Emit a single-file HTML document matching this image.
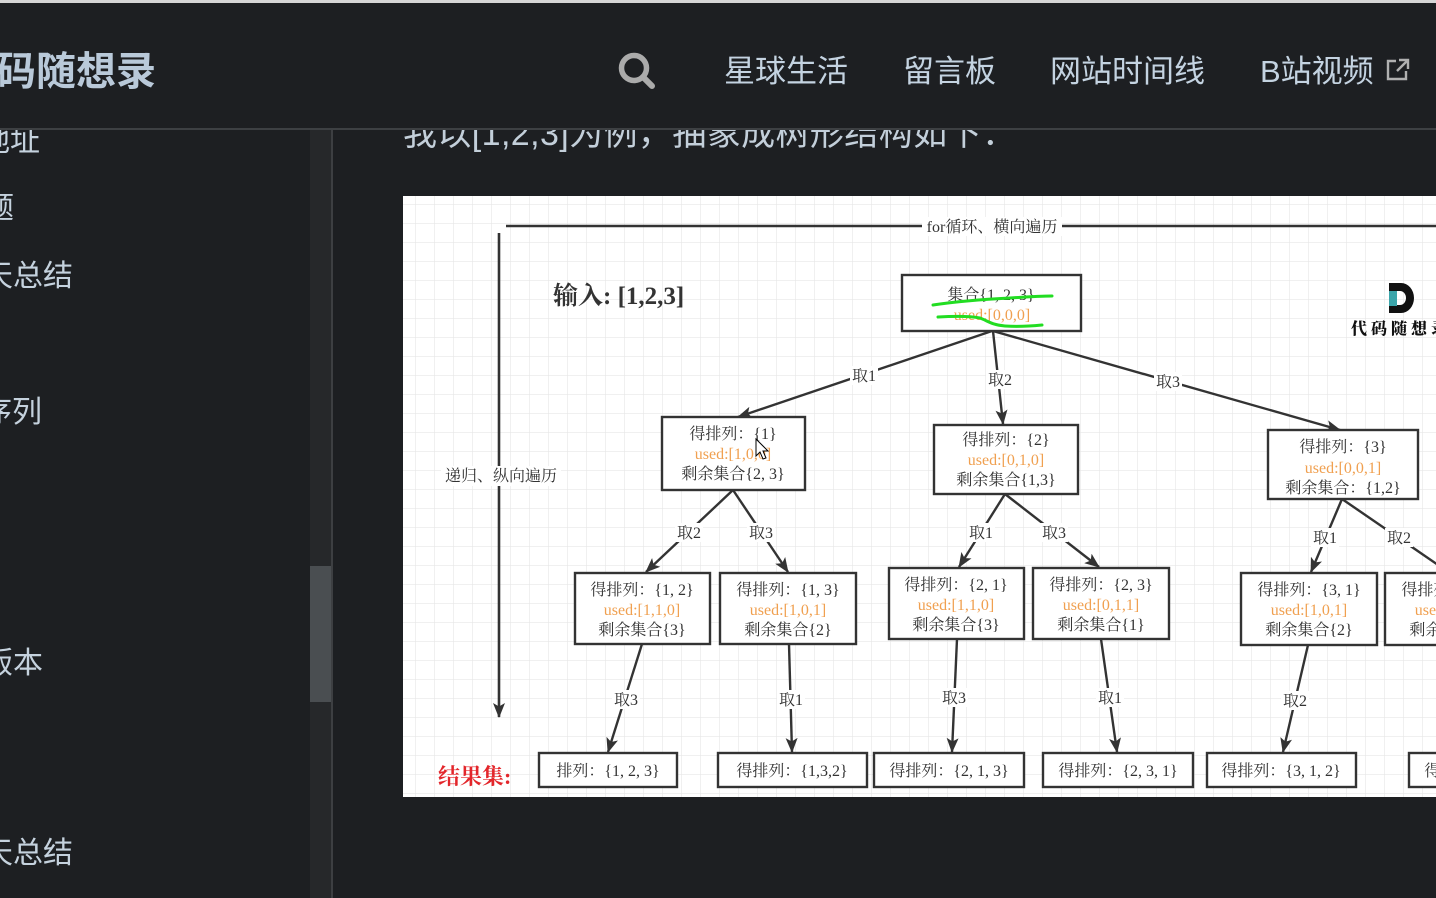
<!DOCTYPE html>
<html>
<head>
<meta charset="utf-8">
<style>
  html,body{margin:0;padding:0;}
  body{width:1436px;height:898px;overflow:hidden;background:#1d1f22;position:relative;font-family:"Liberation Sans","Noto Sans CJK SC",sans-serif;}
  .abs{position:absolute;white-space:nowrap;}
  #topline{left:0;top:0;width:1436px;height:3px;background:#d6d6d6;z-index:5;}
  #header{left:0;top:3px;width:1436px;height:125px;background:#1d1f22;border-bottom:2px solid #3d4043;z-index:4;}
  .logo{left:-4px;top:44px;font-size:40px;line-height:50px;font-weight:bold;color:#b9c9d9;}
  .nav{top:50px;font-size:31px;line-height:38px;color:#c4d3e1;}
  .side{font-size:30px;line-height:30px;color:#c5d2de;}
  #track{left:310px;top:128px;width:22px;height:770px;background:#26282a;}
  #thumb{left:310px;top:566px;width:21px;height:136px;background:#4a4e51;}
  #vline{left:331px;top:128px;width:2px;height:770px;background:#3d3f42;}
  .maintext{left:403px;top:117px;font-size:34px;line-height:34px;color:#c3cfda;letter-spacing:0.4px;}
  #diagram{left:403px;top:196px;width:1033px;height:601px;background:#fff;overflow:hidden;}
</style>
</head>
<body>

<!-- sidebar texts -->
<div class="abs side" style="left:-20px;top:127px;">地址</div>
<div class="abs side" style="left:-16px;top:194px;">题</div>
<div class="abs side" style="left:-17px;top:262px;">天总结</div>
<div class="abs side" style="left:-18px;top:398px;">序列</div>
<div class="abs side" style="left:-17px;top:649px;">版本</div>
<div class="abs side" style="left:-17px;top:839px;">天总结</div>

<div class="abs" id="track"></div>
<div class="abs" id="thumb"></div>
<div class="abs" id="vline"></div>

<div class="abs maintext">我以[1,2,3]为例，抽象成树形结构如下：</div>

<div class="abs" id="topline"></div>
<div class="abs" id="header">
  <div class="abs logo">码随想录</div>
  <svg class="abs" style="left:612px;top:42px;" width="50" height="50" viewBox="612 45 50 50">
    <circle cx="634" cy="68" r="12.5" fill="none" stroke="#ababab" stroke-width="5.5"/>
    <line x1="643" y1="77" x2="652" y2="86" stroke="#ababab" stroke-width="6" stroke-linecap="round"/>
  </svg>
  <div class="abs nav" style="left:724px;">星球生活</div>
  <div class="abs nav" style="left:903px;">留言板</div>
  <div class="abs nav" style="left:1050px;">网站时间线</div>
  <div class="abs nav" style="left:1260px;">B站视频</div>
  <svg class="abs" style="left:1384px;top:53px;" width="28" height="28" viewBox="0 0 28 28">
    <path d="M12 5 H4 V23 H22 V15" fill="none" stroke="#b0b0b0" stroke-width="2.4"/>
    <path d="M15 4 H24 V13" fill="none" stroke="#b0b0b0" stroke-width="2.4"/>
    <line x1="24" y1="4" x2="13" y2="15" stroke="#b0b0b0" stroke-width="2.4"/>
  </svg>
</div>

<div class="abs" id="diagram">
<svg width="1033" height="601" viewBox="403 196 1033 601" xmlns="http://www.w3.org/2000/svg" style="display:block">
  <defs>
    <pattern id="grid" x="415" y="204" width="19" height="19" patternUnits="userSpaceOnUse">
      <path d="M0 0 V19 M0 0 H19" fill="none" stroke="#e6e6e6" stroke-width="1.2"/>
    </pattern>
    <marker id="ah" markerUnits="userSpaceOnUse" markerWidth="15" markerHeight="12" viewBox="0 0 15 12" refX="14" refY="6" orient="auto">
      <path d="M0,0 L15,6 L0,12 L3.5,6 z" fill="#333"/>
    </marker>
  </defs>
  <rect x="403" y="196" width="1033" height="601" fill="#fff"/>
  <rect x="403" y="196" width="1033" height="601" fill="url(#grid)"/>

  <g font-family="'Liberation Serif','Noto Serif CJK SC',serif" fill="#333">
  <!-- top horizontal line -->
  <line x1="506" y1="226" x2="1436" y2="226" stroke="#333" stroke-width="2.6"/>
  <rect x="922" y="217" width="140" height="19" fill="#fff"/>
  <text x="992" y="232" font-size="16" text-anchor="middle">for循环、横向遍历</text>

  <!-- vertical line -->
  <line x1="499" y1="233" x2="499" y2="717" stroke="#333" stroke-width="2.6" marker-end="url(#ah)"/>
  <rect x="441" y="466" width="120" height="20" fill="#fff"/>
  <text x="501" y="481" font-size="16" text-anchor="middle">递归、纵向遍历</text>

  <text x="553" y="304" font-size="25" font-weight="bold">输入: [1,2,3]</text>
  <text x="438" y="784" font-size="22" font-weight="bold" fill="#e3262b">结果集:</text>

  <!-- edges -->
  <g stroke="#333" stroke-width="2.4" fill="none" marker-end="url(#ah)">
    <line x1="992" y1="331" x2="738" y2="417"/>
    <line x1="993" y1="331" x2="1003" y2="424"/>
    <line x1="993" y1="331" x2="1340" y2="430"/>
    <line x1="733" y1="490" x2="646" y2="572"/>
    <line x1="733" y1="490" x2="788" y2="572"/>
    <line x1="1005" y1="494" x2="959" y2="567"/>
    <line x1="1005" y1="494" x2="1099" y2="567"/>
    <line x1="1342" y1="499" x2="1311" y2="572"/>
    <line x1="1342" y1="499" x2="1460" y2="580"/>
    <line x1="642" y1="644" x2="608" y2="752"/>
    <line x1="789" y1="644" x2="792" y2="752"/>
    <line x1="957" y1="639" x2="952" y2="752"/>
    <line x1="1101" y1="639" x2="1117" y2="752"/>
    <line x1="1308" y1="645" x2="1283" y2="752"/>
  </g>

  <!-- edge labels -->
  <g font-size="16" text-anchor="middle">
    <rect x="850" y="366" width="28" height="19" fill="#fff"/><text x="864" y="381">取1</text>
    <rect x="986" y="370" width="28" height="19" fill="#fff"/><text x="1000" y="385">取2</text>
    <rect x="1154" y="372" width="28" height="19" fill="#fff"/><text x="1168" y="387">取3</text>
    <rect x="675" y="523" width="28" height="19" fill="#fff"/><text x="689" y="538">取2</text>
    <rect x="747" y="523" width="28" height="19" fill="#fff"/><text x="761" y="538">取3</text>
    <rect x="967" y="523" width="28" height="19" fill="#fff"/><text x="981" y="538">取1</text>
    <rect x="1040" y="523" width="28" height="19" fill="#fff"/><text x="1054" y="538">取3</text>
    <rect x="1311" y="528" width="28" height="19" fill="#fff"/><text x="1325" y="543">取1</text>
    <rect x="1385" y="528" width="28" height="19" fill="#fff"/><text x="1399" y="543">取2</text>
    <rect x="612" y="690" width="28" height="19" fill="#fff"/><text x="626" y="705">取3</text>
    <rect x="777" y="690" width="28" height="19" fill="#fff"/><text x="791" y="705">取1</text>
    <rect x="940" y="688" width="28" height="19" fill="#fff"/><text x="954" y="703">取3</text>
    <rect x="1096" y="688" width="28" height="19" fill="#fff"/><text x="1110" y="703">取1</text>
    <rect x="1281" y="691" width="28" height="19" fill="#fff"/><text x="1295" y="706">取2</text>
  </g>

  <!-- nodes -->
  <g fill="#fff" stroke="#333" stroke-width="2.4">
    <rect x="902" y="275" width="179" height="56"/>
    <rect x="662" y="417" width="143" height="73"/>
    <rect x="934" y="425" width="144" height="69"/>
    <rect x="1268" y="430" width="150" height="69"/>
    <rect x="575" y="573" width="135" height="71"/>
    <rect x="720" y="573" width="136" height="71"/>
    <rect x="889" y="568" width="135" height="71"/>
    <rect x="1033" y="568" width="136" height="71"/>
    <rect x="1241" y="573" width="136" height="72"/>
    <rect x="1385" y="573" width="136" height="72"/>
    <rect x="539" y="753" width="138" height="34"/>
    <rect x="718" y="753" width="149" height="34"/>
    <rect x="874" y="753" width="150" height="34"/>
    <rect x="1043" y="753" width="150" height="34"/>
    <rect x="1207" y="753" width="149" height="34"/>
    <rect x="1409" y="753" width="150" height="34"/>
  </g>

  <g font-size="16" text-anchor="middle">
    <!-- root -->
    <text x="991" y="300">集合{1, 2, 3}</text>
    <text x="992" y="320" fill="#f0a050">used:[0,0,0]</text>
    <!-- A -->
    <text x="733" y="439">得排列：{1}</text>
    <text x="733" y="459" fill="#f0a050">used:[1,0,0]</text>
    <text x="733" y="479">剩余集合{2, 3}</text>
    <!-- B -->
    <text x="1006" y="445">得排列：{2}</text>
    <text x="1006" y="465" fill="#f0a050">used:[0,1,0]</text>
    <text x="1006" y="485">剩余集合{1,3}</text>
    <!-- C -->
    <text x="1343" y="452">得排列：{3}</text>
    <text x="1343" y="473" fill="#f0a050">used:[0,0,1]</text>
    <text x="1343" y="493">剩余集合：{1,2}</text>
    <!-- A1 -->
    <text x="642" y="595">得排列：{1, 2}</text>
    <text x="642" y="615" fill="#f0a050">used:[1,1,0]</text>
    <text x="642" y="635">剩余集合{3}</text>
    <!-- A2 -->
    <text x="788" y="595">得排列：{1, 3}</text>
    <text x="788" y="615" fill="#f0a050">used:[1,0,1]</text>
    <text x="788" y="635">剩余集合{2}</text>
    <!-- B1 -->
    <text x="956" y="590">得排列：{2, 1}</text>
    <text x="956" y="610" fill="#f0a050">used:[1,1,0]</text>
    <text x="956" y="630">剩余集合{3}</text>
    <!-- B2 -->
    <text x="1101" y="590">得排列：{2, 3}</text>
    <text x="1101" y="610" fill="#f0a050">used:[0,1,1]</text>
    <text x="1101" y="630">剩余集合{1}</text>
    <!-- C1 -->
    <text x="1309" y="595">得排列：{3, 1}</text>
    <text x="1309" y="615" fill="#f0a050">used:[1,0,1]</text>
    <text x="1309" y="635">剩余集合{2}</text>
    <!-- C2 -->
    <text x="1453" y="595">得排列：{3, 2}</text>
    <text x="1453" y="615" fill="#f0a050">used:[0,1,1]</text>
    <text x="1453" y="635">剩余集合{1}</text>
    <!-- results -->
    <text x="608" y="776">排列：{1, 2, 3}</text>
    <text x="792" y="776">得排列：{1,3,2}</text>
    <text x="949" y="776">得排列：{2, 1, 3}</text>
    <text x="1118" y="776">得排列：{2, 3, 1}</text>
    <text x="1281" y="776">得排列：{3, 1, 2}</text>
    <text x="1484" y="776">得排列：{3, 2, 1}</text>
  </g>

  <!-- green scribbles -->
  <path d="M933,305 C960,301 990,299 1010,298 C1025,297 1040,296 1052,296" fill="none" stroke="#22dd22" stroke-width="3" stroke-linecap="round"/>
  <path d="M938,317 C955,316 970,316 980,318 C988,321 992,325 1005,326 C1020,327 1032,326 1042,325" fill="none" stroke="#22dd22" stroke-width="3" stroke-linecap="round"/>

  <!-- cursor -->
  <path d="M756,439 L756,456 L760,452 L763,459 L766,458 L763,451 L768,451 Z" fill="#fff" stroke="#000" stroke-width="1"/>
  </g>

  <!-- logo -->
  <path d="M1389,283 H1401 A13,15 0 0 1 1401,313 H1389 Z M1397,291 H1400 A6,7 0 0 1 1400,305 H1397 Z" fill="#111" fill-rule="evenodd"/>
  <rect x="1389" y="291" width="8" height="15" fill="#3ba5aa"/>
  <text x="1351" y="334" font-family="'Noto Serif CJK SC',serif" font-weight="900" font-size="16" letter-spacing="4" fill="#111">代码随想录</text>
</svg>
</div>

</body>
</html>
